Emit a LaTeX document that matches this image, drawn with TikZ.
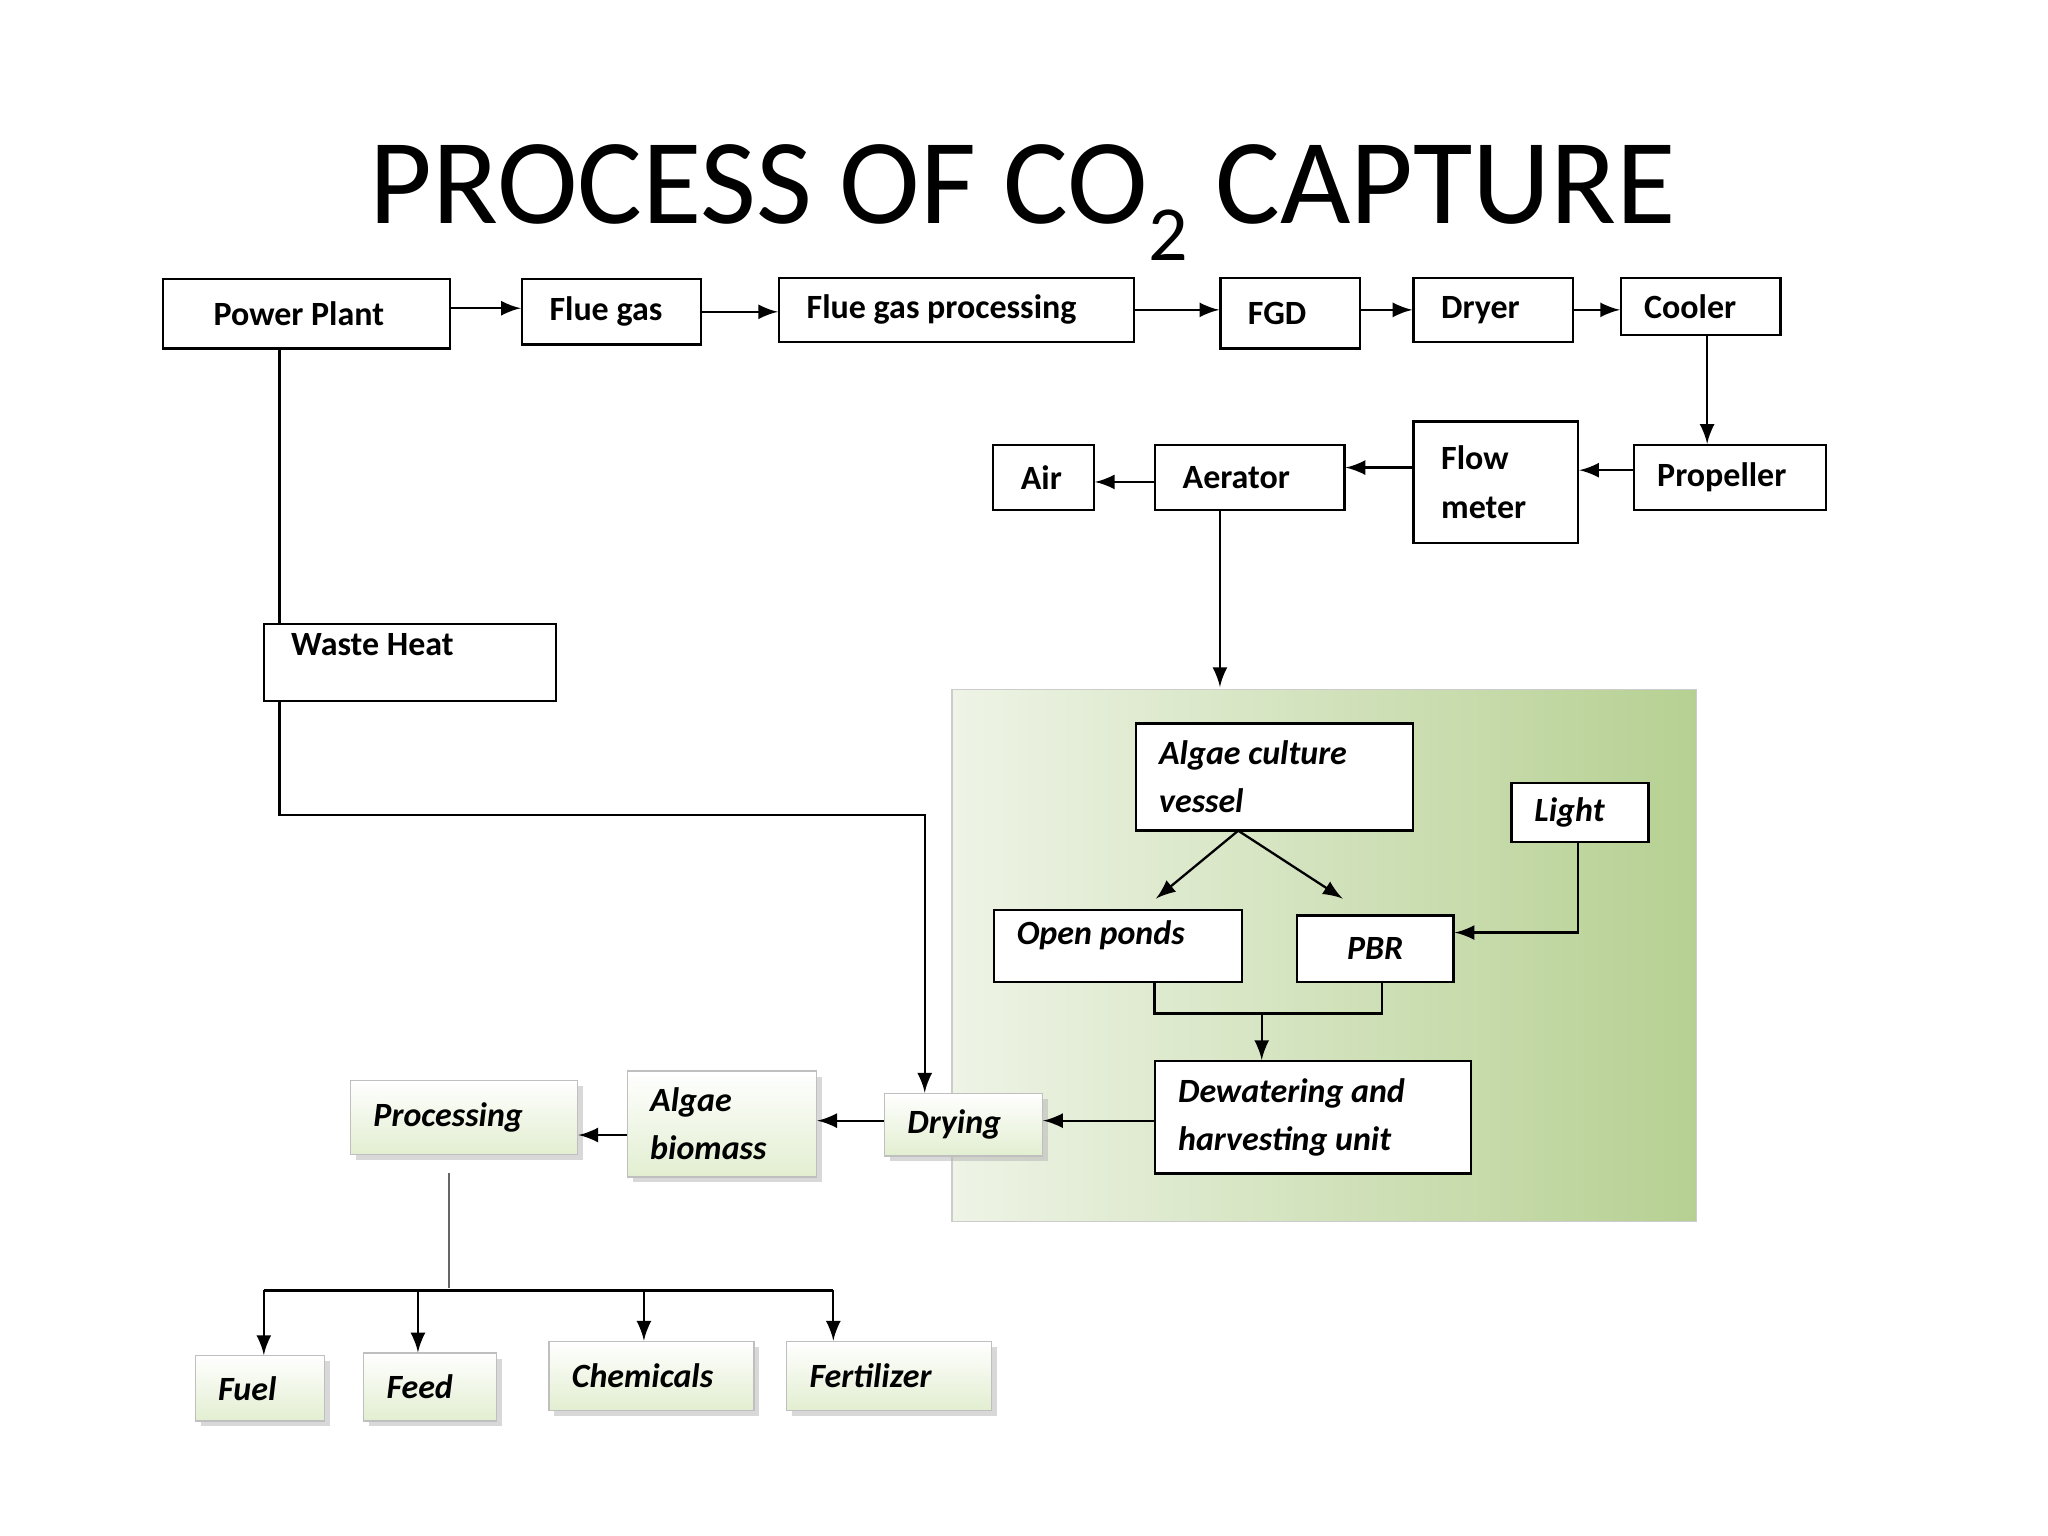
\documentclass[tikz,border=0pt]{standalone}
\usepackage{fontspec}
\setmainfont{Carlito}
\usetikzlibrary{shadows}
\definecolor{gdark}{RGB}{182,208,146}
\definecolor{glight}{RGB}{226,238,208}
\definecolor{gpale}{RGB}{238,244,230}
\tikzset{
 every node/.style={font=\fontsize{7.4}{9.5}\selectfont\bfseries},
 bx/.style={draw=black, line width=0.5pt, fill=white, align=flush left, inner xsep=5pt, inner ysep=0pt},
 gb/.style={draw=gray!50, line width=0.3pt, top color=white, bottom color=glight, drop shadow={shadow xshift=1.2pt,shadow yshift=-1.2pt,fill=gray!60}, align=flush left, inner xsep=5pt, inner ysep=0pt, font=\fontsize{7.4}{9.5}\selectfont\bfseries\itshape},
 it/.style={font=\fontsize{7.4}{9.5}\selectfont\bfseries\itshape},
 ln/.style={line width=0.5pt},
 ar/.style={line width=0.5pt,-latex}
}
\newcommand{\mybox}[7]{%
 \node[#1, anchor=north west, minimum width={(#5-#3)*0.01cm}, minimum height={(#6-#4)*0.01cm}, text width={(#5-#3)*0.01cm-10pt}] (#2) at ({#3*0.01},{-#4*0.01}) {#7};}
\begin{document}
\begin{tikzpicture}[x=1cm,y=1cm]
\useasboundingbox (0,0) rectangle (15.68,-11.76);
\node[font=\fontsize{26.5}{30}\selectfont] (title) at (7.83,-1.55) {PROCESS OF CO\raisebox{-0.3em}{\fontsize{17}{20}\selectfont 2} CAPTURE};
% green region
\shade[shading angle=-140, left color=gpale, right color=gdark, draw=gray!40, line width=0.3pt] (7.29,-5.28) rectangle (12.99,-9.35);
\coordinate (gtop) at (9.34,-5.26);
\mybox{bx}{pp}{124}{213}{344}{266}{\hspace*{6pt}Power Plant}
\mybox{bx}{fg}{399}{213}{536}{263}{\hspace*{1pt}Flue gas}
\mybox{bx}{fgp}{596}{212}{868}{261}{\hspace*{1pt}Flue gas processing}
\mybox{bx}{fgd}{934}{212}{1041}{266}{\hspace*{1pt}FGD}
\mybox{bx}{dry}{1082}{212}{1204}{261}{\hspace*{1pt}Dryer}
\mybox{bx}{cool}{1241}{212}{1363}{256}{Cooler}
\mybox{bx}{prop}{1251}{340}{1398}{390}{Propeller}
\mybox{bx}{flow}{1082}{322}{1208}{415}{\hspace*{1pt}Flow\\[1pt]\hspace*{1pt}meter}
\mybox{bx}{aer}{884}{340}{1029}{390}{\hspace*{1pt}Aerator}
\mybox{bx}{air}{760}{340}{837}{390}{\hspace*{1pt}Air}
\node[bx, anchor=north west, minimum width=2.24cm, minimum height=0.59cm, text width=2.24cm-10pt, text depth=8pt] (wh) at (2.01,-4.77) {\hspace*{1pt}Waste Heat};
\node[bx, it, anchor=north west, minimum width=2.12cm, minimum height=0.82cm, text width=2.12cm-10pt] (ves) at (8.69,-5.53) {Algae culture\\[1pt] vessel};
\mybox{bx,it}{light}{1157}{599}{1262}{644}{Light}
\node[bx, it, anchor=north west, minimum width=1.90cm, minimum height=0.55cm, text width=1.90cm-10pt, text depth=6pt] (op) at (7.60,-6.96) {Open ponds};
\node[bx, it, anchor=north west, minimum width=1.20cm, minimum height=0.51cm, align=center] (pbr) at (9.92,-7.00) {PBR};
\mybox{bx,it}{dew}{884}{812}{1126}{898}{Dewatering and\\[1pt] harvesting unit}
\mybox{gb}{drying}{677}{837}{798}{885}{Drying}
\mybox{gb}{bio}{480}{820}{625}{901}{Algae\\[1pt] biomass}
\mybox{gb}{proc}{268}{827}{442}{884}{Processing}
\mybox{gb}{fuel}{149}{1038}{248}{1088}{Fuel}
\mybox{gb}{feed}{278}{1036}{380}{1088}{Feed}
\mybox{gb}{chem}{420}{1027}{577}{1080}{Chemicals}
\mybox{gb}{fert}{602}{1027}{759}{1080}{Fertilizer}
% top row
\draw[ar] (pp.east |- 0,-2.36) -- (fg.west |- 0,-2.36);
\draw[ar] (fg) -- (fg.east -| fgp.west);
\draw[ar] (fgp.east) -- (fgd.west |- fgp.east);
\draw[ar] (fgd.east |- dry.east) -- (dry.west);
\draw[ar] (dry.east) -- (cool.west |- dry.east);
\draw[ar] (13.07,-2.56) -- (prop.north -| 13.07,0);
\draw[ar] (prop.west |- 0,-3.60) -- (flow.east |- 0,-3.60);
\draw[ar] (flow.west |- 0,-3.58) -- (aer.east |- 0,-3.58);
\draw[ar] (aer.west |- 0,-3.69) -- (air.east |- 0,-3.69);
\draw[ar] (aer.south -| gtop) -- (gtop);
% waste heat path
\draw[ln] (pp.south -| 2.14,0) -- (wh.north -| 2.14,0);
\draw[ar] (wh.south -| 2.14,0) -- (2.14,-6.24) -- (7.08,-6.24) -- (drying.north -| 7.08,0);
% inside
\coordinate (vb) at (9.48,-6.36);
\draw[ar] (vb) -- (8.85,-6.88);
\draw[ar] (vb) -- (10.28,-6.88);
\draw[ar] (light.south -| 12.08,0) -- (12.08,-7.14) -- (pbr.east |- 0,-7.14);
\draw[ln] (op.south -| 8.84,0) -- (8.84,-7.76) -- (10.58,-7.76) -- (pbr.south -| 10.58,0);
\coordinate (mj) at (9.66,-7.76);
\draw[ar] (mj) -- (dew.north -| mj);
\draw[ar] (dew.west |- 0,-8.58) -- (drying.east |- 0,-8.58);
\draw[ar] (drying.west |- 0,-8.58) -- (bio.east |- 0,-8.58);
\draw[ar] (bio.west |- 0,-8.69) -- (proc.east |- 0,-8.69);
% outputs
\coordinate (pb) at (3.44,-8.98);
\draw[ln, draw=gray!80!black] (pb) -- (3.44,-9.86);
\draw[ln] (2.02,-9.88) -- (6.38,-9.88);
\draw[ar] (2.02,-9.88) -- (fuel.north -| 2.02,0);
\draw[ar] (3.20,-9.88) -- (feed.north -| 3.20,0);
\draw[ar] (4.93,-9.88) -- (chem.north -| 4.93,0);
\draw[ar] (6.38,-9.88) -- (fert.north -| 6.38,0);
\end{tikzpicture}
\end{document}
